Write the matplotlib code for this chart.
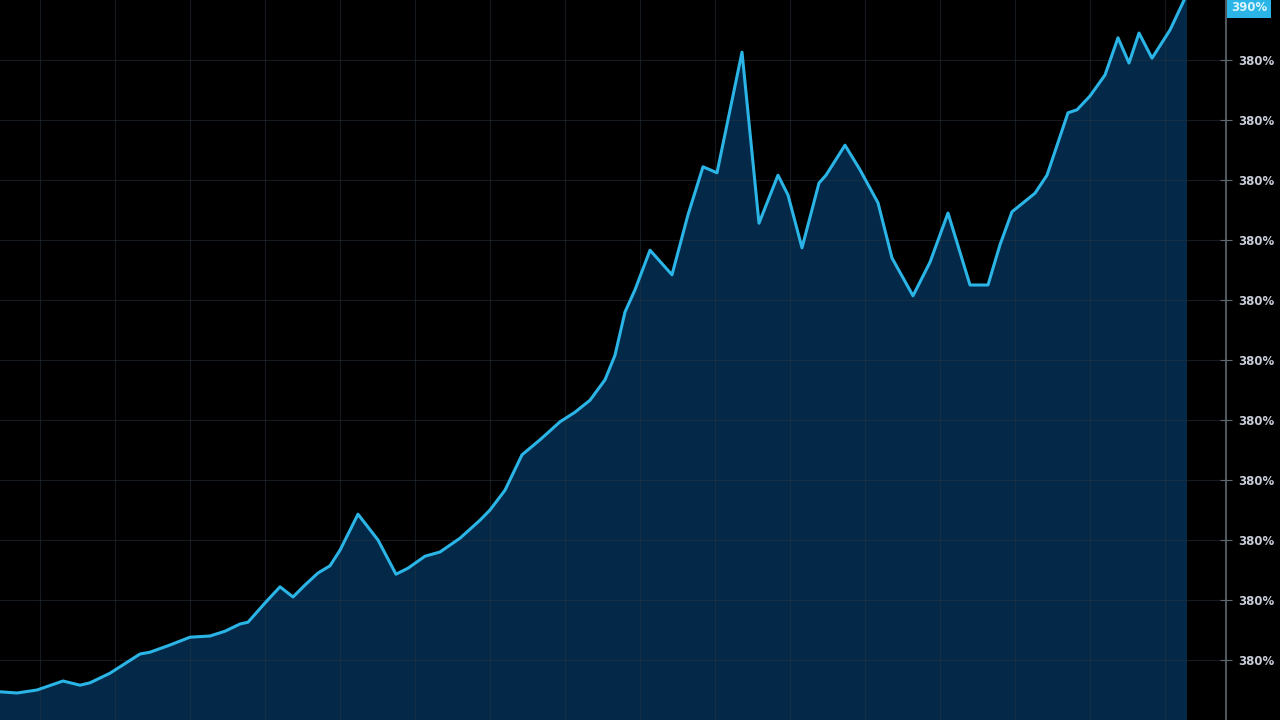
import matplotlib.pyplot as plt

# trading days and index level
days = [0, 17, 37, 63, 80, 90, 110, 140, 150, 170, 190, 210, 225, 240, 248,
        265, 280, 293, 305, 318, 330, 340, 358, 378, 396, 408, 425, 440, 460,
        480, 490, 505, 522, 540, 560, 575, 590, 605, 615, 625, 635, 650, 672,
        688, 703, 717, 742, 759, 778, 788, 802, 819, 826, 845, 860, 878, 892,
        913, 930, 948, 970, 988, 1000, 1012, 1035, 1047, 1068, 1077, 1090,
        1105, 1118, 1129, 1139, 1152, 1170, 1187]
level = [0.47, 0.45, 0.50, 0.65, 0.58, 0.62, 0.78, 1.10, 1.13, 1.25, 1.38,
         1.40, 1.48, 1.60, 1.63, 1.95, 2.22, 2.05, 2.25, 2.45, 2.57, 2.83,
         3.43, 3.00, 2.43, 2.53, 2.73, 2.80, 3.03, 3.33, 3.50, 3.83, 4.42,
         4.67, 4.97, 5.13, 5.33, 5.67, 6.08, 6.80, 7.17, 7.83, 7.42, 8.42,
         9.22, 9.12, 11.13, 8.28, 9.08, 8.75, 7.87, 8.95, 9.08, 9.58, 9.17,
         8.62, 7.70, 7.07, 7.63, 8.45, 7.25, 7.25, 7.92, 8.47, 8.78, 9.08,
         10.12, 10.17, 10.40, 10.75, 11.37, 10.95, 11.45, 11.03, 11.50, 12.1]

ytick_vals = [1, 2, 3, 4, 5, 6, 7, 8, 9, 10, 11]
ytick_labels = ['380%'] * 11
last_label = '390%'
xgrid = [40, 115, 190, 265, 340, 415, 490, 565, 640, 715, 790, 865, 940,
         1015, 1090, 1165]

line_color = '#2bb5e6'
fill_color = '#032848'

fig = plt.figure(figsize=(12.8, 7.2), dpi=100, facecolor='black')
ax = fig.add_axes([0, 0, 1226 / 1280, 1])
ax.set_facecolor('black')

ax.fill_between(days, level, 0, color=fill_color, zorder=1, linewidth=0)
ax.plot(days, level, color=line_color, linewidth=2.2, zorder=3)

ax.set_xlim(0, 1226)
ax.set_ylim(0, 12)
ax.set_xticks(xgrid)
ax.set_yticks(ytick_vals)
ax.set_yticklabels(ytick_labels)
ax.grid(True, color='#2a3540', linewidth=0.8, alpha=0.5, zorder=2)
ax.set_axisbelow(False)

# price scale on the right
ax.yaxis.tick_right()
ax.tick_params(axis='x', length=0, labelbottom=False)
ax.tick_params(axis='y', direction='inout', length=8, color='#606870',
               labelcolor='#c8ccd8', labelsize=8.5, pad=5)
for lab in ax.get_yticklabels():
    lab.set_fontweight('bold')
for side in ['top', 'left', 'bottom']:
    ax.spines[side].set_visible(False)
ax.spines['right'].set_color('#606870')
ax.spines['right'].set_linewidth(1.2)

# last value tag
ax.text(1.004, 0.998, last_label, transform=ax.transAxes, ha='left', va='top',
        color='#d8f4ff', fontsize=8.5, fontweight='bold',
        bbox=dict(boxstyle='square,pad=0.3', facecolor=line_color,
                  edgecolor='none'), clip_on=False)

plt.savefig('out.png', dpi=100, facecolor='black')
